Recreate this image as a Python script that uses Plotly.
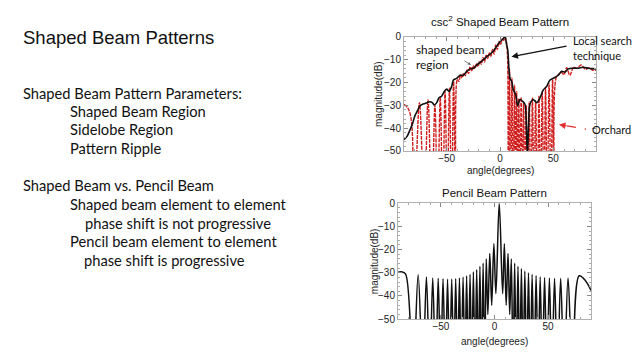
import plotly.graph_objects as go

W, H = 638, 359

# ---------------- data ----------------
# csc^2 shaped beam: "Local search technique" (black)
local_angle = [-90, -87, -84.4, -82, -79.7, -77, -75, -72.5, -70.3, -68, -65.6, -63.5, -61.6, -59.3,
               -57.2, -54.7, -52.2, -50, -47.8, -45.3, -43.7, -40.6, -37.5, -34.4, -31.2, -28.1, -25,
               -21.8, -18.7, -15.6, -12.5, -9.4, -6.2, -3.1, 0, 2.5, 4.7, 6, 7.2, 8.4, 9.4, 11, 12.5,
               14.7, 16.6, 18.7, 20.9, 23.4, 24.6, 25.7, 26.8, 28.1, 31.2, 34.4, 37.5, 40.6, 43.7,
               46.9, 50.9, 54.6, 57.8, 60.9, 64, 68.7, 73.4, 78.1, 82.8, 86, 90]
local_db = [-45, -43.5, -40.8, -38, -34.5, -32, -30.2, -29.5, -29.2, -28.7, -28.4, -28.8, -29.8, -28.8,
            -26.7, -26, -23.9, -22.9, -23.9, -21.7, -18.9, -18.2, -16.8, -16.8, -15.1, -14, -13.7,
            -12.3, -11.2, -10, -8.6, -7.6, -6.2, -4.1, -2, -1, 0, -3, -5.5, -14, -18.2, -19.6, -23.2,
            -25.3, -30.2, -27.4, -28.1, -29.5, -38, -52, -38, -29.5, -27.4, -28.8, -26.7, -23.2, -21.7,
            -18.9, -17.9, -16.8, -15.1, -15.4, -14, -13.7, -13.7, -13.3, -13.7, -13.9, -14]

# csc^2 shaped beam: "Orchard" (red)
orchard_angle = [-90, -86, -83, -80.5, -75.5, -71, -67.5, -64, -61, -58.5, -56, -53.7, -51.5, -49.4,
                 -47.4, -45.3, -43.5, -41.5, -40, -38.5, -37, -35.5, -34, -32.5, -31, -29.5, -28,
                 -26.5, -25, -23.5, -22, -20.5, -19, -17.5, -16, -14.5, -13, -11.5, -10, -8.5, -7,
                 -5.5, -4, -2.5, -1, 0.5, 2, 3.5, 4.8, 6, 7, 7.8, 8.9, 10.0, 11.2, 12.5, 13.6, 14.7,
                 15.6, 16.6, 17.6, 18.7, 19.8, 20.9, 22.1, 23.4, 24.6, 25.9, 27.4, 29.0, 30.4, 31.9,
                 33.4, 35.0, 36.5, 38.1, 39.6, 41.2, 42.7, 44.3, 46.0, 47.8, 49.3, 50.9, 52.8, 55,
                 57.5, 60, 62.5, 65.5, 69, 72, 76, 80, 83.5, 87, 90]
orchard_db = [-29.5, -31.5, -37, -75, -28.8, -75, -27.5, -75, -30, -75, -26.5, -75, -24, -75,
              -22.5, -75, -19.5, -75, -18.5, -19.5, -16.5, -18, -15.8, -17, -14.5, -16, -13,
              -15, -12.5, -14, -11.5, -13, -10.5, -12, -9, -11, -8, -9.5, -7, -8.5, -5.5,
              -7.5, -3.5, -5.5, -2, -3.5, -1, -1.5, 0, -2, -8, -75, -14, -75, -18, -75, -21, -75,
              -24, -75, -27, -75, -26.5, -75, -28.5, -75, -30, -75, -28.5, -75, -26.5, -75,
              -28, -75, -26, -75, -24, -75, -22.5, -75, -20.5, -75, -18.5, -75, -17.5, -16.5,
              -15.5, -16.5, -13.5, -16.8, -13.2, -13.8, -12.3, -14.2, -13.6, -14.6, -14.5]

# Pencil beam: lobe tops / shoulders and nulls
pencil_lobe_angle = [-90, -86.5, -83, -71.2, -63.5, -57.6, -52.5, -48.0, -43.8, -39.9, -36.2, -32.7,
                     -29.3, -26.0, -22.8, -19.7, -16.6, -13.6, -10.6, -7.7, -4.4, -0.6, 4.4, 9.2,
                     12.6, 15.7, 18.8, 21.9, 25.1, 28.3, 31.7, 35.1, 38.8, 42.6, 46.7, 51.2, 56.0,
                     61.7, 68.6, 79.0, 85.0, 90.0]
pencil_lobe_db = [-29.8, -29.6, -30.5, -30.8, -31.8, -32.2, -32.4, -32.6, -32.7, -32.7, -32.5, -32.2,
                  -31.8, -31.3, -30.6, -29.6, -28.6, -27.2, -25.8, -24.0, -21.7, -17.5, 0.0, -17.5,
                  -21.7, -24.0, -25.8, -27.2, -28.2, -29.2, -30.0, -30.6, -31.2, -31.7, -32.0, -32.2,
                  -32.4, -32.4, -32.2, -31.3, -33.5, -37.6]
pencil_null_angle = [-76.1, -66.9, -60.4, -54.9, -50.2, -45.8, -41.8, -38.0, -34.4, -31.0, -27.6,
                     -24.4, -21.2, -18.2, -15.1, -12.1, -9.2, -6.2, -2.6, 1.3, 7.6, 10.9, 14.2,
                     17.3, 20.3, 23.5, 26.7, 30.0, 33.4, 36.9, 40.7, 44.6, 48.9, 53.5, 58.7, 64.9,
                     72.9]
pencil_null_db = [-75, -75, -75, -75, -75, -75, -75, -75, -75, -75, -75,
                  -75, -75, -75, -75, -75, -75, -48, -44, -39, -39, -44, -48,
                  -75, -75, -75, -75, -75, -75, -75, -75, -75, -75, -75, -75, -75,
                  -75]

angle_ticks = [-50, 0, 50]
db_ticks = [0, -10, -20, -30, -40, -50]

pencil = sorted(zip(pencil_lobe_angle + pencil_null_angle, pencil_lobe_db + pencil_null_db))
pencil_angle = [p[0] for p in pencil]
pencil_db = [p[1] for p in pencil]


def px(x):
    return x / W


def py(y):
    return 1 - y / H


fig = go.Figure()
fig.add_trace(go.Scatter(x=orchard_angle, y=orchard_db, mode="lines",
                         line=dict(color="#d01e1e", width=1.4, dash="4px,1px", shape="spline",
                                   smoothing=1, simplify=False),
                         xaxis="x", yaxis="y", showlegend=False))
fig.add_trace(go.Scatter(x=local_angle, y=local_db, mode="lines",
                         line=dict(color="#111111", width=1.6, shape="spline", smoothing=0.8,
                                   simplify=False),
                         xaxis="x", yaxis="y", showlegend=False))
fig.add_trace(go.Scatter(x=pencil_angle, y=pencil_db, mode="lines",
                         line=dict(color="#111111", width=1.5, shape="spline", smoothing=1,
                                   simplify=False),
                         xaxis="x2", yaxis="y2", showlegend=False))

tickfont = dict(family="Liberation Sans, Arial", size=10, color="#222")
common_x = dict(range=[-90, 90], tickvals=angle_ticks, ticks="inside", ticklen=4, tickcolor="#888",
                showline=True, linecolor="#b0b0b0", linewidth=1, mirror="allticks",
                showgrid=False, zeroline=False, tickfont=tickfont, ticklabelstandoff=-2,
                minor=dict(dtick=10, tick0=0, ticks="inside", ticklen=2, tickcolor="#aaa"))
common_y = dict(range=[-50, 0], tickvals=db_ticks, ticks="inside", ticklen=4, tickcolor="#888",
                showline=True, linecolor="#b0b0b0", linewidth=1, mirror="allticks",
                showgrid=False, zeroline=False, tickfont=tickfont,
                minor=dict(dtick=2, tick0=0, ticks="inside", ticklen=2, tickcolor="#aaa"))

fig.update_layout(
    width=W, height=H, margin=dict(l=0, r=0, t=0, b=0),
    paper_bgcolor="white", plot_bgcolor="white",
    xaxis=dict(domain=[px(404), px(596)], anchor="y", **common_x),
    yaxis=dict(domain=[py(150), py(32)], anchor="x", **common_y),
    xaxis2=dict(domain=[px(398), px(591)], anchor="y2", **common_x),
    yaxis2=dict(domain=[py(324), py(204)], anchor="x2", **common_y),
)

ann = []
body = dict(family="Lato, Carlito, sans-serif", size=14.7, color="#111")


def text(x, y, s, font, xanchor="left", angle=0):
    ann.append(dict(x=px(x), y=py(y), xref="paper", yref="paper", text=s, showarrow=False,
                    xanchor=xanchor, yanchor="middle", font=font, textangle=angle))


text(21, 32.5, "Shaped Beam Patterns", dict(family="Liberation Sans, Arial", size=18.5, color="#111"))
text(21, 90, "Shaped Beam Pattern Parameters:", body)
text(68, 108.5, "Shaped Beam Region", body)
text(68, 127.5, "Sidelobe Region", body)
text(68, 146.5, "Pattern Ripple", body)
text(21, 185.5, "Shaped Beam vs. Pencil Beam", body)
text(68, 205, "Shaped beam element to element", body)
text(83, 224, "phase shift is not progressive", body)
text(68, 243.5, "Pencil beam element to element", body)
text(82, 263, "phase shift is progressive", body)

axfont = dict(family="Liberation Sans, Arial", size=10, color="#222")
titlefont = dict(family="Liberation Sans, Arial", size=11.5, color="#111")
text(500, 16, "csc<sup>2</sup> Shaped Beam Pattern", titlefont, xanchor="center")
text(494, 193, "Pencil Beam Pattern", titlefont, xanchor="center")
text(379, 91, "magnitude(dB)", axfont, xanchor="center", angle=-90)
text(374, 264, "magnitude(dB)", axfont, xanchor="center", angle=-90)
text(500, 170.5, "angle(degrees)", axfont, xanchor="center")
text(494, 347, "angle(degrees)", axfont, xanchor="center")

small = dict(family="Lato, Carlito, sans-serif", size=11.8, color="#111")
note = dict(family="Lato, Carlito, sans-serif", size=11, color="#111")
text(414, 45, "shaped beam", small)
text(414, 61, "region", small)
text(571, 36, "Local search", note)
text(571, 51, "technique", note)
text(590, 128, "Orchard", note)

# arrows
ann.append(dict(x=px(511.5), y=py(52.5), xref="paper", yref="paper", ax=568 - 511.5, ay=41.5 - 52.5,
                showarrow=True, arrowhead=2, arrowsize=1, arrowwidth=1.3, arrowcolor="#111", text=""))
ann.append(dict(x=px(471), y=py(61), xref="paper", yref="paper", ax=-8, ay=-5,
                showarrow=True, arrowhead=2, arrowsize=0.8, arrowwidth=0.8, arrowcolor="#666", text=""))
ann.append(dict(x=px(559), y=py(122.7), xref="paper", yref="paper", ax=9, ay=1.6,
                showarrow=True, arrowhead=2, arrowsize=1, arrowwidth=1.3, arrowcolor="#e03030", text=""))
fig.update_layout(annotations=ann)
fig.add_shape(type="line", xref="paper", yref="paper", x0=px(567), y0=py(124.1), x1=px(586), y1=py(127.4),
              line=dict(color="#e03030", width=1.3, dash="dash"))

fig.write_html("out.html", config={"displayModeBar": False},
               post_script="document.body.style.margin='0';document.body.style.padding='0';")
